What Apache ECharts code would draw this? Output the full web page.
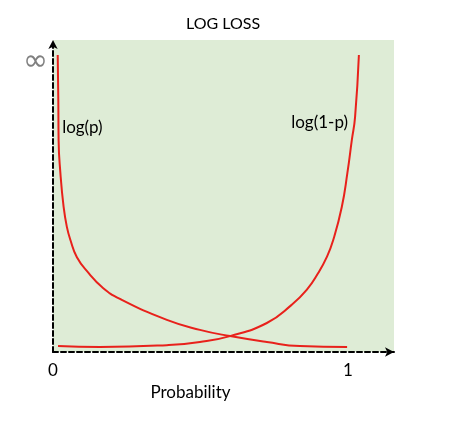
<!DOCTYPE html>
<html>
<head>
<meta charset="utf-8">
<script src="https://cdn.jsdelivr.net/npm/echarts@6/dist/echarts.min.js"></script>
<style>html,body{margin:0;padding:0;background:#fff}#c{width:461px;height:448px}</style>
</head>
<body>
<div id="c"></div>
<script>
// Data (x = probability, y = loss in arbitrary units)
const logP_x = [0.016, 0.018, 0.019, 0.025, 0.036, 0.047, 0.059, 0.081, 0.121, 0.166, 0.227, 0.386, 0.498, 0.600, 0.725, 0.837, 0.997];
const logP_y = [9.52, 8.08, 6.79, 5.74, 4.65, 4.01, 3.59, 3.04, 2.53, 2.08, 1.70, 1.03, 0.71, 0.51, 0.32, 0.19, 0.16];
const log1mP_x = [0.017, 0.159, 0.386, 0.498, 0.600, 0.725, 0.809, 0.860, 0.899, 0.928, 0.950, 0.979, 0.998, 1.013, 1.024, 1.037];
const log1mP_y = [0.19, 0.16, 0.22, 0.32, 0.51, 0.93, 1.51, 1.99, 2.53, 3.04, 3.59, 4.65, 5.74, 6.79, 7.53, 9.52];
const xTickLabels = ['0', '1'];
const yTickLabel = '∞';
const seriesNames = ['log(p)', 'log(1-p)'];

const pair = (xs, ys) => xs.map((x, i) => [x, ys[i]]);
const FONT = 'Lato';
const chart = echarts.init(document.getElementById('c'));
chart.setOption({
  animation: false,
  title: {
    text: 'LOG LOSS', left: 181, top: 11,
    textStyle: { fontFamily: FONT, fontSize: 16, fontWeight: 'normal', color: '#000' }
  },
  grid: { left: 53, right: 67, top: 40, bottom: 96, show: true, backgroundColor: '#deecd6', borderWidth: 0 },
  xAxis: {
    type: 'value', min: 0, max: 1.156, interval: 1,
    name: 'Probability', nameLocation: 'middle', nameGap: 21,
    nameTextStyle: { fontFamily: FONT, fontSize: 17, color: '#000', padding: [0, 66, 0, 0] },
    axisLine: { show: true, symbol: ['none', 'arrow'], symbolSize: [7, 9], lineStyle: { color: '#000', width: 2, type: [5, 3] } },
    axisTick: { show: false },
    splitLine: { show: false },
    axisLabel: {
      showMaxLabel: false, margin: 10, fontFamily: FONT, fontSize: 17, color: '#000',
      formatter: v => (v === 0 ? xTickLabels[0] : v === 1 ? xTickLabels[1] : '')
    }
  },
  yAxis: {
    type: 'value', min: 0, max: 10, interval: 0.1,
    axisLine: { show: true, symbol: ['none', 'arrow'], symbolSize: [7, 9], lineStyle: { color: '#000', width: 2, type: [5, 3] } },
    axisTick: { show: false },
    splitLine: { show: false },
    axisLabel: {
      showMaxLabel: false, margin: 5, fontFamily: 'DejaVu Sans', fontSize: 30, color: '#808080',
      formatter: v => (Math.abs(v - 9.3) < 1e-6 ? yTickLabel : '')
    }
  },
  series: [
    {
      name: seriesNames[0], type: 'line', smooth: 0.5, symbol: 'none',
      lineStyle: { color: '#e8211b', width: 2 },
      data: pair(logP_x, logP_y),
      markPoint: {
        symbol: 'circle', symbolSize: 0,
        data: [{ coord: [0.031, 7.21], value: seriesNames[0] }],
        label: { show: true, position: 'right', distance: 0, formatter: seriesNames[0], fontFamily: FONT, fontSize: 17, color: '#000' }
      }
    },
    {
      name: seriesNames[1], type: 'line', smooth: 0.5, symbol: 'none',
      lineStyle: { color: '#e8211b', width: 2 },
      data: pair(log1mP_x, log1mP_y),
      markPoint: {
        symbol: 'circle', symbolSize: 0,
        data: [{ coord: [1.0, 7.37], value: seriesNames[1] }],
        label: { show: true, position: 'left', distance: 0, formatter: seriesNames[1], fontFamily: FONT, fontSize: 17, color: '#000' }
      }
    }
  ]
});
</script>
</body>
</html>
